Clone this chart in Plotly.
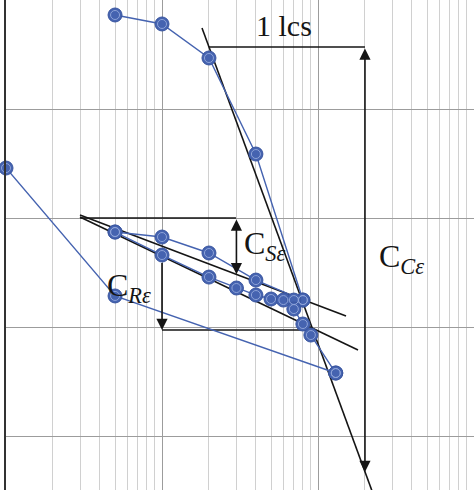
import numpy as np
import plotly.graph_objects as go

# loading branch (x = load, y = strain)
load_x = [5, 10, 20, 40, 80]
load_y = [0.275, 0.44, 1.064, 2.826, 5.505]

# unloading branch
unload_x = [80, 40, 20, 10, 5]
unload_y = [5.505, 5.138, 4.642, 4.349, 4.257]

# reloading branch
reload_x = [5, 10, 20, 30, 40, 50, 60, 70, 70, 80, 90, 130]
reload_y = [4.257, 4.679, 5.083, 5.284, 5.413, 5.486, 5.505, 5.505, 5.67, 5.945, 6.147, 6.844]

# rebound branch
rebound_x = [1, 5, 130]
rebound_y = [3.083, 5.43, 6.844]

# construction lines
steep_x, steep_y = [18.05, 235.0], [0.514, 9.2]
line_a_x, line_a_y = [2.98, 151.2], [3.945, 5.798]
line_b_x, line_b_y = [2.98, 180.5], [3.98, 6.422]
cs_top_x, cs_top_y = [2.98, 29.8], [4.0, 4.0]
cr_bot_x, cr_bot_y = [10, 91.5], [6.055, 6.055]
lcs_x, lcs_y = [20, 200], [0.862, 0.862]

BLUE = "#4563b0"
BLACK = "#151515"

fig = go.Figure()

for xs, ys in [(steep_x, steep_y), (line_a_x, line_a_y), (line_b_x, line_b_y),
               (cs_top_x, cs_top_y), (cr_bot_x, cr_bot_y), (lcs_x, lcs_y)]:
    fig.add_trace(go.Scatter(x=xs, y=ys, mode="lines",
                             line=dict(color=BLACK, width=1.6), hoverinfo="skip"))

for xs, ys in [(load_x, load_y), (unload_x, unload_y), (reload_x, reload_y), (rebound_x, rebound_y)]:
    fig.add_trace(go.Scatter(x=xs, y=ys, mode="lines+markers", cliponaxis=False,
                             line=dict(color=BLUE, width=1.4),
                             marker=dict(size=14, color=BLUE, line=dict(color="#3a56a0", width=1))))

all_x = load_x + unload_x + reload_x + rebound_x
all_y = load_y + unload_y + reload_y + rebound_y
fig.add_trace(go.Scatter(x=all_x, y=all_y, mode="markers", cliponaxis=False,
                         marker=dict(symbol="circle-open", size=9, color="#8ea3d8", line=dict(width=1))))

arrow = dict(xref="x", yref="y", axref="x", ayref="y", text="", showarrow=True,
             arrowhead=2, arrowsize=1.4, arrowwidth=1.6, arrowcolor=BLACK, standoff=0, startstandoff=0)
# C_Se double arrow
fig.add_annotation(x=np.log10(30), y=5.03, ax=np.log10(30), ay=4.0, arrowside="end+start", **arrow)
# C_Re arrow
fig.add_annotation(x=np.log10(10), y=6.055, ax=np.log10(10), ay=4.8, **arrow)
# C_Ce double arrow
fig.add_annotation(x=np.log10(200), y=8.66, ax=np.log10(200), ay=0.862, arrowside="end+start", **arrow)

serif = "Liberation Serif"
fig.add_annotation(x=np.log10(60.5), y=0.46, text="1 lcs", showarrow=False,
                   font=dict(family=serif, size=30, color=BLACK))
fig.add_annotation(x=np.log10(32.5), y=4.51, text="C<sub><i>Sε</i></sub>", showarrow=False,
                   xanchor="left", font=dict(family=serif, size=32, color=BLACK))
fig.add_annotation(x=np.log10(238), y=4.75, text="C<sub><i>Cε</i></sub>", showarrow=False,
                   xanchor="left", font=dict(family=serif, size=32, color=BLACK))
fig.add_annotation(x=np.log10(4.3), y=5.28, text="C<sub><i>Rε</i></sub>", showarrow=False,
                   xanchor="left", font=dict(family=serif, size=32, color=BLACK))

fig.update_layout(
    width=474, height=490, margin=dict(l=6, r=0, t=0, b=0),
    paper_bgcolor="white", plot_bgcolor="white", showlegend=False,
    xaxis=dict(type="log", range=[0, 3], dtick=1, showticklabels=False, ticks="",
               showgrid=True, gridcolor="#9c9c9c", gridwidth=1.4, zeroline=False,
               minor=dict(dtick="D1", showgrid=True, gridcolor="#d0d0d0", gridwidth=1.2, ticks="")),
    yaxis=dict(range=[8.99, 0], tickvals=[2, 4, 6, 8], showticklabels=False, ticks="",
               showgrid=True, gridcolor="#9c9c9c", gridwidth=1.4, zeroline=False,
               showline=True, linecolor="#333333", linewidth=2),
)

fig.write_html("out.html", config={"displayModeBar": False},
               post_script="document.body.style.margin='0px';")
